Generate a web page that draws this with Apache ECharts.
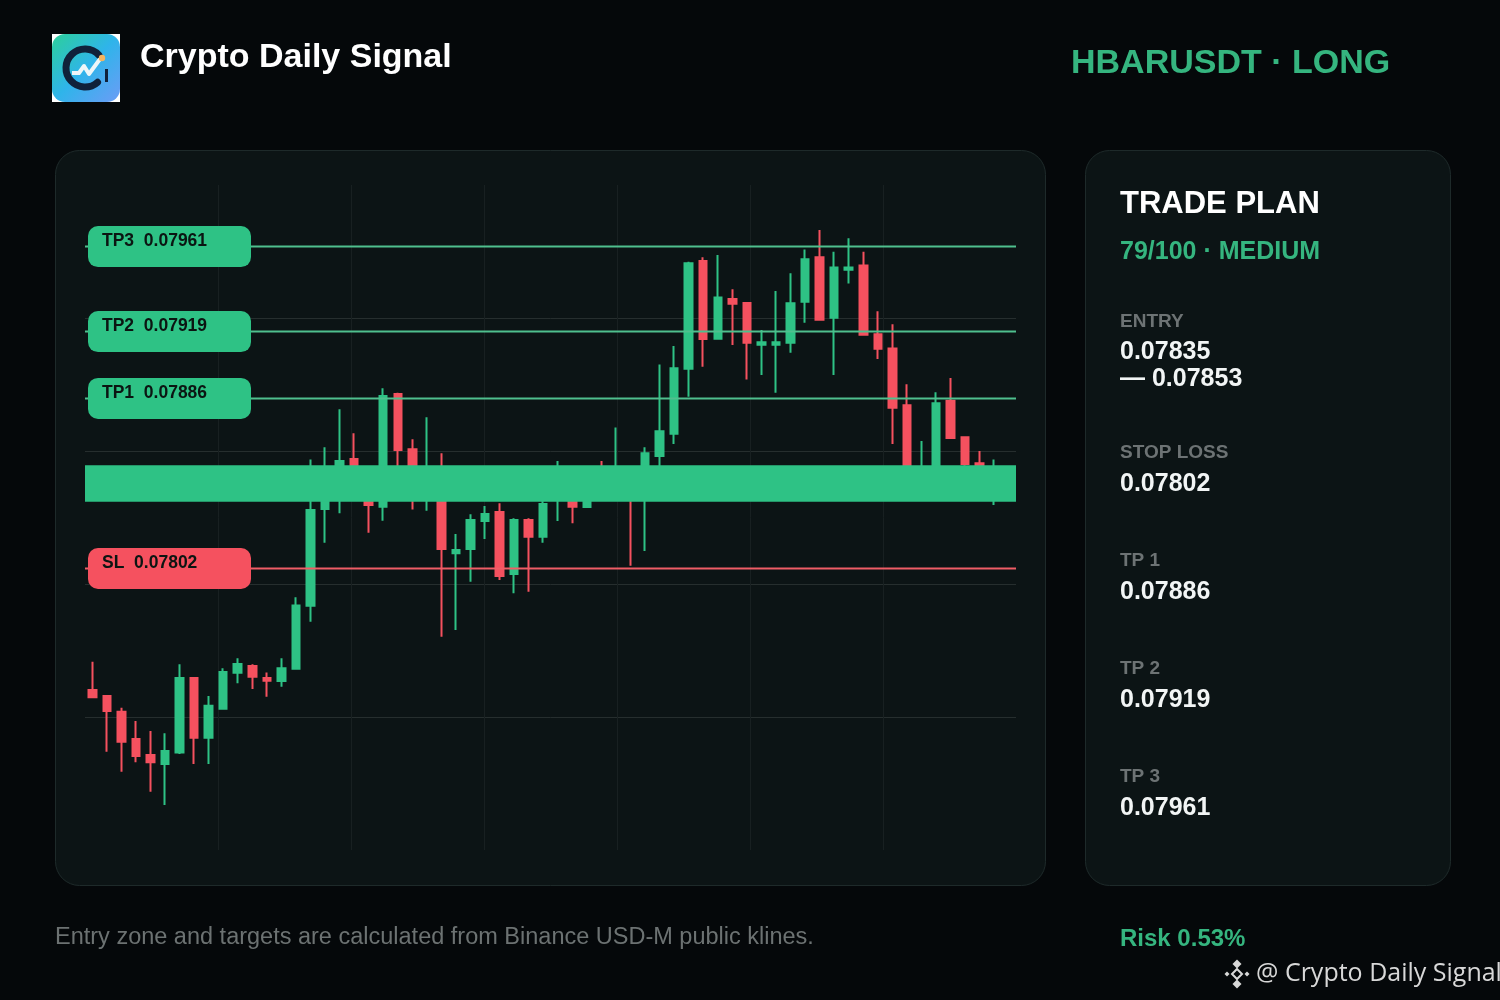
<!DOCTYPE html>
<html><head><meta charset="utf-8">
<style>html,body{margin:0;padding:0;background:#05080a}#c{width:1500px;height:1000px}</style>
<script src="https://cdn.jsdelivr.net/npm/echarts@6/dist/echarts.min.js"></script>
</head><body><div id="c"></div>
<script>
const opens=[0.077420,0.077390,0.077313,0.077178,0.077099,0.077055,0.077112,0.077479,0.077184,0.077328,0.077505,0.077539,0.077479,0.077464,0.077525,0.077836,0.078314,0.078383,0.078561,0.078482,0.078325,0.078882,0.078609,0.078408,0.078457,0.078095,0.078116,0.078255,0.078299,0.077993,0.078260,0.078177,0.078383,0.078408,0.078324,0.078457,0.078408,0.078432,0.078408,0.078576,0.078686,0.079007,0.079539,0.079155,0.079351,0.079331,0.079125,0.079125,0.079135,0.079338,0.079557,0.079259,0.079496,0.079517,0.079177,0.079107,0.078826,0.078408,0.078408,0.078849,0.078668,0.078540,0.078408];
const closes=[0.077384,0.077316,0.077165,0.077094,0.077063,0.077119,0.077479,0.077184,0.077342,0.077509,0.077548,0.077486,0.077466,0.077527,0.077838,0.078309,0.078432,0.078551,0.078408,0.078334,0.078872,0.078605,0.078408,0.078506,0.078116,0.078111,0.078260,0.078289,0.077983,0.078260,0.078177,0.078339,0.078457,0.078325,0.078408,0.078408,0.078482,0.078383,0.078589,0.078698,0.079009,0.079527,0.079153,0.079359,0.079328,0.079135,0.079137,0.079137,0.079330,0.079547,0.079249,0.079507,0.079507,0.079175,0.079105,0.078814,0.078408,0.078457,0.078836,0.078664,0.078536,0.078457,0.078482];
const lows=[0.077384,0.077115,0.077017,0.077063,0.076918,0.076852,0.077104,0.077055,0.077055,0.077328,0.077453,0.077425,0.077387,0.077436,0.077525,0.077757,0.078147,0.078293,0.078380,0.078197,0.078256,0.078457,0.078312,0.078305,0.077683,0.077716,0.077955,0.078166,0.077963,0.077898,0.077905,0.078147,0.078255,0.078243,0.078324,0.078383,0.078383,0.078034,0.078106,0.078457,0.078635,0.078868,0.079017,0.079155,0.079124,0.078954,0.078976,0.078888,0.079086,0.079234,0.079249,0.078976,0.079428,0.079175,0.079055,0.078635,0.078383,0.078383,0.078383,0.078664,0.078528,0.078408,0.078334];
const highs=[0.077560,0.077390,0.077333,0.077267,0.077218,0.077206,0.077547,0.077479,0.077390,0.077527,0.077577,0.077547,0.077507,0.077577,0.077878,0.078559,0.078619,0.078806,0.078688,0.078506,0.078910,0.078888,0.078658,0.078767,0.078589,0.078190,0.078288,0.078329,0.078342,0.078268,0.078268,0.078408,0.078551,0.078457,0.078432,0.078551,0.078717,0.078457,0.078619,0.079028,0.079119,0.079535,0.079557,0.079568,0.079399,0.079331,0.079198,0.079390,0.079478,0.079596,0.079692,0.079584,0.079651,0.079584,0.079290,0.079226,0.078930,0.078650,0.078890,0.078961,0.078668,0.078600,0.078559];
const candleSlots=64;
const categories=Array.from({length:candleSlots},(_,i)=>String(i+1));
const levelNames=['TP3','TP2','TP1','SL'];
const levelValues=[0.07961,0.07919,0.07886,0.07802];
const levelText=['0.07961','0.07919','0.07886','0.07802'];
const zoneLow=0.07835, zoneHigh=0.07853;
const priceMin=0.07663, priceMax=0.079914;
const GREEN='#2EC285',RED='#F5515F',LINEG='#4FBF8E',LINER='#EF5D66',WICKG='#3DB884',WICKR='#E85C68';
const SANS='"Liberation Sans",Arial,sans-serif';

const candleData=opens.map((o,i)=>[o,closes[i],lows[i],highs[i]]);
while(candleData.length<candleSlots)candleData.push(['-','-','-','-']);

const t=(text,x,y,font,fill,extra)=>({type:'text',silent:true,z:20,style:Object.assign({text,x,y,font,fill,textVerticalAlign:'middle'},extra||{})});
const planLabel=[['ENTRY',322],['STOP LOSS',453],['TP 1',561],['TP 2',669],['TP 3',777]];
const planValue=[['0.07835',352],['— 0.07853',379],['0.07802',484],['0.07886',592],['0.07919',700],['0.07961',808]];

const graphics=[
 {type:'rect',silent:true,z:0,shape:{x:55.5,y:150.5,width:990,height:735,r:24},style:{fill:'#0C1415',stroke:'#1E2A2A',lineWidth:1}},
 {type:'rect',silent:true,z:0,shape:{x:1085.5,y:150.5,width:365,height:735,r:24},style:{fill:'#0C1415',stroke:'#1E2A2A',lineWidth:1}},
 {type:'rect',silent:true,z:1,shape:{x:52,y:34,width:68,height:68},style:{fill:'#ffffff'}},
 {type:'rect',silent:true,z:2,shape:{x:52,y:34,width:68,height:68,r:13},style:{fill:new echarts.graphic.LinearGradient(0,0,1,1,[{offset:0,color:'#2CD09A'},{offset:0.5,color:'#2FB4EA'},{offset:1,color:'#6C9CF6'}])}},
 {type:'arc',silent:true,z:3,shape:{cx:85,cy:68,r:19,startAngle:-0.75,endAngle:0.85,clockwise:false},style:{fill:'none',stroke:'#10213A',lineWidth:7,lineCap:'round'}},
 {type:'polyline',silent:true,z:4,shape:{points:[[72,73],[79,73],[84,66],[89,74],[100,59]]},style:{fill:'none',stroke:'#EEF6F8',lineWidth:4,lineJoin:'round'}},
 {type:'circle',silent:true,z:5,shape:{cx:102,cy:58,r:3.2},style:{fill:'#F4B45F'}},
 {type:'rect',silent:true,z:4,shape:{x:105,y:69,width:3,height:13},style:{fill:'#10213A'}},
 t('Crypto Daily Signal',140,58,'bold 34px '+SANS,'#FFFFFF'),
 t('HBARUSDT · LONG',1071,64,'bold 34px '+SANS,'#35B57F'),
 t('TRADE PLAN',1120,204,'bold 31px '+SANS,'#FFFFFF'),
 t('79/100 · MEDIUM',1120,252,'bold 25px '+SANS,'#35B57F'),
 t('Entry zone and targets are calculated from Binance USD-M public klines.',55,938,'23.5px '+SANS,'#6C7272'),
 t('Risk 0.53%',1120,939,'bold 24px '+SANS,'#35B57F'),
 t('@ Crypto Daily Signal',1256,974,'25px "Open Sans",sans-serif','#D8D8D8'),
 ...[[1237,964,4.5],[1237,984,4.5],[1227,974,2.5],[1247,974,2.5]].map(d=>({type:'polygon',silent:true,z:20,shape:{points:[[d[0],d[1]-d[2]],[d[0]+d[2],d[1]],[d[0],d[1]+d[2]],[d[0]-d[2],d[1]]]},style:{fill:'#D8D8D8'}})),
 {type:'polygon',silent:true,z:20,shape:{points:[[1237,969],[1242,974],[1237,979],[1232,974]]},style:{fill:'none',stroke:'#D8D8D8',lineWidth:2}},
 ...planLabel.map(p=>t(p[0],1120,p[1],'bold 19px '+SANS,'#6D7374')),
 ...planValue.map(p=>t(p[0],1120,p[1],'bold 25px '+SANS,'#F2F5F5')),
];

function levelLines(params,api){
  const y=api.coord([0,api.value(0)])[1], c=params.coordSys, col=levelNames[params.dataIndex]==='SL'?LINER:LINEG;
  return {type:'line',shape:{x1:c.x,y1:y,x2:c.x+c.width,y2:y},style:{stroke:col,lineWidth:2}};
}
function levelPills(params,api){
  const y=api.coord([0,api.value(0)])[1], c=params.coordSys, i=params.dataIndex, sl=levelNames[i]==='SL';
  return {type:'group',children:[
    {type:'rect',shape:{x:c.x+3,y:y-20.5,width:163,height:41,r:10},style:{fill:sl?RED:GREEN}},
    {type:'text',style:{text:levelNames[i]+'  '+levelText[i],x:c.x+17,y:y-5.5,font:'bold 17.5px '+SANS,fill:'#0B1512',textVerticalAlign:'middle'}}
  ]};
}
function zoneRect(params,api){
  const c=params.coordSys, a=api.coord([0,api.value(0)])[1], b=api.coord([0,api.value(1)])[1];
  return {type:'rect',shape:{x:c.x,y:b,width:c.width,height:a-b},style:{fill:GREEN}};
}

const chart=echarts.init(document.getElementById('c'),null,{width:1500,height:1000,renderer:'canvas'});
chart.setOption({
 animation:false,backgroundColor:'#05080A',
 grid:{left:85,top:185,width:931,height:665},
 xAxis:[
  {type:'category',data:categories,show:false,boundaryGap:true},
  {type:'value',min:0,max:7,interval:1,axisLine:{show:false},axisTick:{show:false},axisLabel:{show:false},
   splitLine:{show:true,showMinLine:false,showMaxLine:false,lineStyle:{color:'#182021',width:1}}}
 ],
 yAxis:[
  {type:'value',min:priceMin,max:priceMax,show:false,splitLine:{show:false}},
  {type:'value',min:0,max:5,interval:1,axisLine:{show:false},axisTick:{show:false},axisLabel:{show:false},
   splitLine:{show:true,showMinLine:false,showMaxLine:false,lineStyle:{color:'#262E2E',width:1}}}
 ],
 graphic:graphics,
 series:[
  {type:'candlestick',name:'HBARUSDT',xAxisIndex:0,yAxisIndex:0,data:candleData,barWidth:8,z:3,
   itemStyle:{color:GREEN,color0:RED,borderColor:GREEN,borderColor0:RED,borderWidth:2,borderColorDoji:GREEN}},
  {type:'custom',name:'levels',xAxisIndex:0,yAxisIndex:0,z:4,silent:true,clip:false,renderItem:levelLines,data:levelValues.map(v=>[v])},
  {type:'custom',name:'entry',xAxisIndex:0,yAxisIndex:0,z:5,silent:true,renderItem:zoneRect,data:[[zoneLow,zoneHigh]],encode:{y:[0,1]}},
  {type:'custom',name:'pills',xAxisIndex:0,yAxisIndex:0,z:6,silent:true,clip:false,renderItem:levelPills,data:levelValues.map(v=>[v])}
 ]
});
</script></body></html>
